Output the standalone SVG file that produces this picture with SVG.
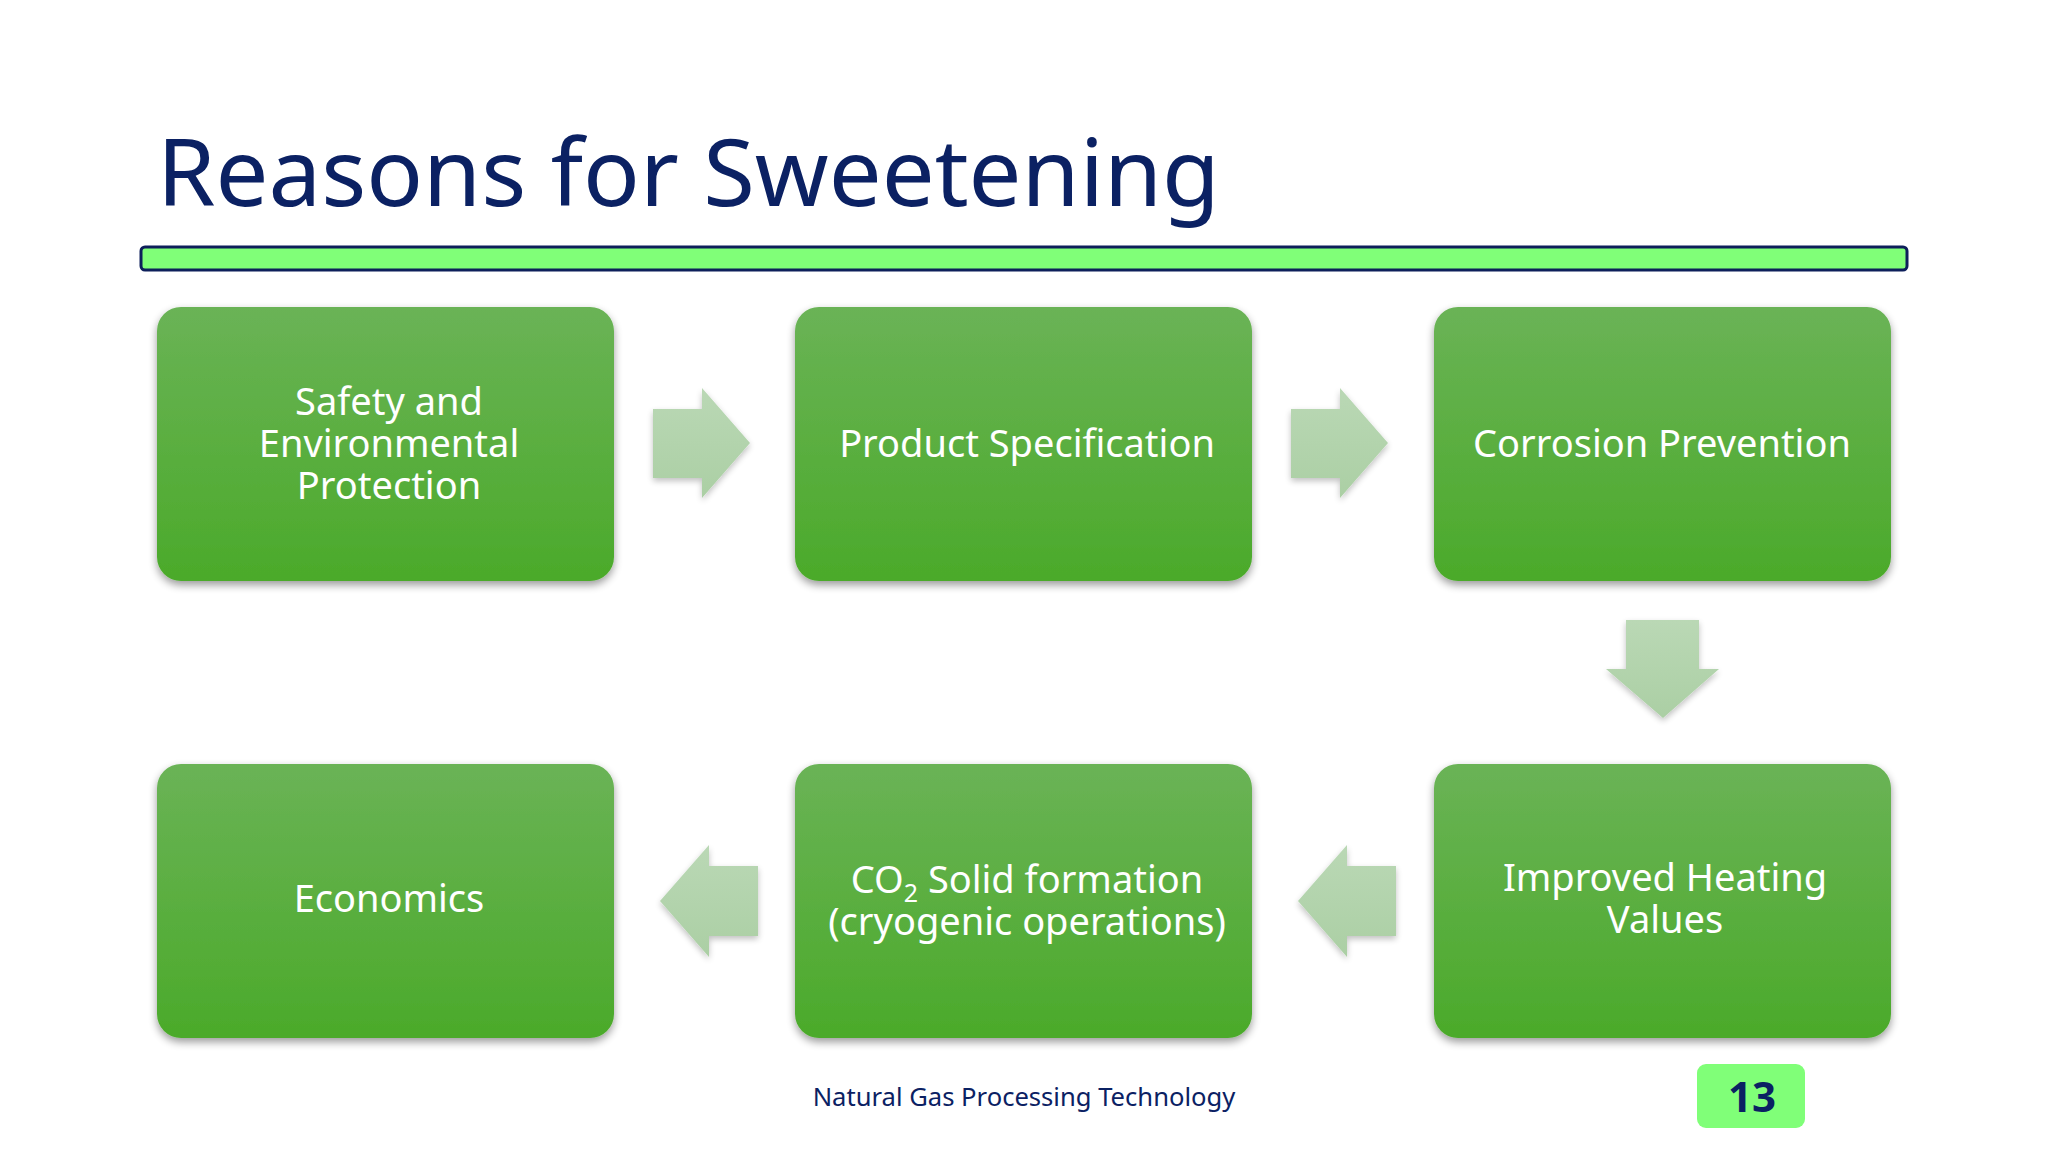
<svg xmlns="http://www.w3.org/2000/svg" width="2048" height="1152" viewBox="0 0 2048 1152">
  <defs>
    <linearGradient id="boxGrad" x1="0" y1="0" x2="0" y2="1">
      <stop offset="0" stop-color="#6AB356"/>
      <stop offset="1" stop-color="#4BAA2A"/>
    </linearGradient>
    <linearGradient id="arrGradV" x1="0" y1="0" x2="0" y2="1">
      <stop offset="0" stop-color="#BAD8B5"/>
      <stop offset="1" stop-color="#ABCFA4"/>
    </linearGradient>
    <filter id="shadow" x="-10%" y="-10%" width="120%" height="130%">
      <feGaussianBlur in="SourceAlpha" stdDeviation="4"/>
      <feOffset dx="0" dy="4" result="b"/>
      <feComponentTransfer><feFuncA type="linear" slope="0.4"/></feComponentTransfer>
      <feMerge><feMergeNode/><feMergeNode in="SourceGraphic"/></feMerge>
    </filter>
    <filter id="ashadow" x="-20%" y="-20%" width="140%" height="140%">
      <feGaussianBlur in="SourceAlpha" stdDeviation="3"/>
      <feOffset dx="0" dy="3" result="b"/>
      <feComponentTransfer><feFuncA type="linear" slope="0.25"/></feComponentTransfer>
      <feMerge><feMergeNode/><feMergeNode in="SourceGraphic"/></feMerge>
    </filter>
  </defs>
  <style>
    .box { fill: url(#boxGrad); filter: url(#shadow); }
    .lbl { font-family: "Noto Sans", "Open Sans", sans-serif; font-size: 38px; fill: #FFFFFF; text-anchor: middle; }
    .arr { fill: url(#arrGradV); filter: url(#ashadow); }
  </style>
  <rect width="2048" height="1152" fill="#FFFFFF"/>

  <g id="title">
    <text x="157" y="206" font-family="Noto Sans, 'Open Sans', sans-serif" font-size="94" fill="#0B2163">Reasons for Sweetening</text>
    <rect x="141" y="247" width="1766" height="23" rx="4" fill="#80FF78" stroke="#0D1F5A" stroke-width="3"/>
  </g>

  <g id="node-safety">
    <rect class="box" x="157" y="307" width="457" height="274" rx="24"/>
    <text class="lbl"><tspan x="389" y="415">Safety and</tspan><tspan x="389" y="457">Environmental</tspan><tspan x="389" y="499">Protection</tspan></text>
  </g>
  <g id="node-product">
    <rect class="box" x="795" y="307" width="457" height="274" rx="24"/>
    <text class="lbl" x="1027" y="457">Product Specification</text>
  </g>
  <g id="node-corrosion">
    <rect class="box" x="1434" y="307" width="457" height="274" rx="24"/>
    <text class="lbl" x="1662" y="457">Corrosion Prevention</text>
  </g>
  <g id="node-heating">
    <rect class="box" x="1434" y="764" width="457" height="274" rx="24"/>
    <text class="lbl"><tspan x="1665" y="891">Improved Heating</tspan><tspan x="1665" y="933">Values</tspan></text>
  </g>
  <g id="node-co2">
    <rect class="box" x="795" y="764" width="457" height="274" rx="24"/>
    <text class="lbl"><tspan x="1027" y="893">CO<tspan font-size="25" dy="9">2</tspan><tspan dy="-9"> Solid formation</tspan></tspan><tspan x="1027" y="935">(cryogenic operations)</tspan></text>
  </g>
  <g id="node-economics">
    <rect class="box" x="157" y="764" width="457" height="274" rx="24"/>
    <text class="lbl" x="389" y="912">Economics</text>
  </g>

  <g id="connectors">
    <polygon class="arr" points="653,409 702,409 702,388 750,443 702,498 702,478 653,478"/>
    <polygon class="arr" points="1291,409 1340,409 1340,388 1388,443 1340,498 1340,478 1291,478"/>
    <polygon class="arr" points="1626,620 1699,620 1699,669 1719,669 1663,718 1606,669 1626,669"/>
    <polygon class="arr" points="1396,866 1347,866 1347,845 1298,901 1347,957 1347,936 1396,936"/>
    <polygon class="arr" points="758,866 709,866 709,845 660,901 709,957 709,936 758,936"/>
  </g>

  <g id="footer">
    <text x="1024" y="1106" font-family="Noto Sans, 'Open Sans', sans-serif" font-size="25.6" fill="#0B2163" text-anchor="middle">Natural Gas Processing Technology</text>
    <rect x="1697" y="1064" width="108" height="64" rx="9" fill="#80FF78"/>
    <text x="1752" y="1112" font-family="Noto Sans, 'Open Sans', sans-serif" font-size="42" font-weight="bold" fill="#0B2163" text-anchor="middle">13</text>
  </g>
</svg>
